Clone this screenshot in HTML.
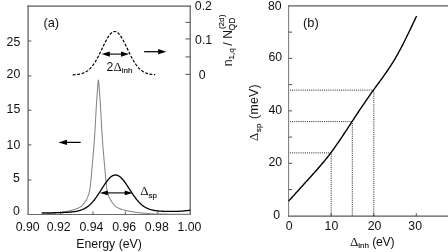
<!DOCTYPE html>
<html><head><meta charset="utf-8"><title>Figure</title>
<style>
html,body{margin:0;padding:0;background:#fff;}
body{width:448px;height:252px;overflow:hidden;}
svg{display:block;font-family:"Liberation Sans",sans-serif;font-size:12.3px;fill:#111;}
.fr{fill:none;stroke:#585858;stroke-width:1.1;}
.tk line{stroke:#585858;stroke-width:1.05;}
.sb{font-size:8.1px;stroke:#111;stroke-width:0.15px;}
.lb{font-size:12.8px;}
.dl{font-family:"Liberation Serif",serif;font-size:13px;}
</style></head><body>
<svg width="448" height="252" viewBox="0 0 448 252">
<rect width="448" height="252" fill="#fff"/>
<!-- panel a -->
<g class="fr"><path d="M28.1,5.55 V215.05" stroke-width="1.2"/><path d="M190.2,5.55 V215.05" stroke-width="1.2"/><path d="M27.50,6.15 H190.80" stroke-width="1.3"/><path d="M27.50,214.55 H190.80" stroke="#6c6c6c" stroke-width="1.1"/></g>
<g class="tk"><line x1="60.52" y1="214.55" x2="60.52" y2="211.55"/><line x1="92.94" y1="214.55" x2="92.94" y2="211.55"/><line x1="125.36" y1="214.55" x2="125.36" y2="211.55"/><line x1="157.78" y1="214.55" x2="157.78" y2="211.55"/><line x1="28.10" y1="41.00" x2="31.40" y2="41.00"/><line x1="28.10" y1="75.90" x2="31.40" y2="75.90"/><line x1="28.10" y1="110.20" x2="31.40" y2="110.20"/><line x1="28.10" y1="144.90" x2="31.40" y2="144.90"/><line x1="28.10" y1="180.00" x2="31.40" y2="180.00"/><line x1="190.20" y1="22.40" x2="185.40" y2="22.40"/><line x1="190.20" y1="38.90" x2="185.40" y2="38.90"/><line x1="190.20" y1="56.90" x2="185.40" y2="56.90"/><line x1="190.20" y1="74.40" x2="185.40" y2="74.40"/></g>
<text x="27.6" y="230.7" text-anchor="middle">0.90</text><text x="58.7" y="230.7" text-anchor="middle">0.92</text><text x="91.4" y="230.7" text-anchor="middle">0.94</text><text x="124.1" y="230.7" text-anchor="middle">0.96</text><text x="156.8" y="230.7" text-anchor="middle">0.98</text><text x="189.4" y="230.7" text-anchor="middle">1.00</text><text x="19.9" y="214.75" text-anchor="end">0</text><text x="19.9" y="181.55" text-anchor="end">5</text><text x="20.3" y="148.85" text-anchor="end">10</text><text x="20.3" y="112.95" text-anchor="end">15</text><text x="20.3" y="78.25" text-anchor="end">20</text><text x="20.3" y="45.85" text-anchor="end">25</text>
<text x="194.8" y="10.4">0.2</text>
<text x="195.1" y="43.6">0.1</text>
<text x="198.8" y="78.8">0</text>
<text class="lb" x="43.4" y="27.2">(a)</text>
<path d="M41.70,213.96 L42.00,213.95 L42.30,213.94 L42.59,213.92 L42.89,213.91 L43.19,213.89 L43.49,213.88 L43.78,213.86 L44.08,213.85 L44.38,213.83 L44.68,213.81 L44.97,213.79 L45.27,213.78 L45.57,213.76 L45.87,213.74 L46.16,213.72 L46.46,213.70 L46.76,213.68 L47.06,213.66 L47.35,213.63 L47.65,213.61 L47.95,213.59 L48.25,213.57 L48.54,213.54 L48.84,213.52 L49.14,213.50 L49.44,213.48 L49.74,213.45 L50.03,213.43 L50.33,213.40 L50.63,213.38 L50.93,213.36 L51.22,213.33 L51.52,213.31 L51.82,213.28 L52.12,213.26 L52.41,213.23 L52.71,213.21 L53.01,213.18 L53.31,213.16 L53.60,213.13 L53.90,213.11 L54.20,213.08 L54.50,213.05 L54.79,213.03 L55.09,213.00 L55.39,212.97 L55.69,212.94 L55.98,212.91 L56.28,212.88 L56.58,212.85 L56.88,212.81 L57.17,212.78 L57.47,212.75 L57.77,212.71 L58.07,212.68 L58.37,212.64 L58.66,212.61 L58.96,212.57 L59.26,212.53 L59.56,212.49 L59.85,212.46 L60.15,212.42 L60.45,212.38 L60.75,212.33 L61.04,212.29 L61.34,212.25 L61.64,212.21 L61.94,212.16 L62.23,212.12 L62.53,212.07 L62.83,212.03 L63.13,211.98 L63.42,211.93 L63.72,211.89 L64.02,211.84 L64.32,211.79 L64.61,211.74 L64.91,211.69 L65.21,211.64 L65.51,211.58 L65.81,211.53 L66.10,211.48 L66.40,211.42 L66.70,211.37 L67.00,211.31 L67.29,211.26 L67.59,211.20 L67.89,211.14 L68.19,211.09 L68.48,211.03 L68.78,210.97 L69.08,210.91 L69.38,210.84 L69.67,210.78 L69.97,210.72 L70.27,210.65 L70.57,210.59 L70.86,210.52 L71.16,210.45 L71.46,210.38 L71.76,210.30 L72.05,210.23 L72.35,210.15 L72.65,210.07 L72.95,209.99 L73.25,209.91 L73.54,209.82 L73.84,209.73 L74.14,209.64 L74.44,209.55 L74.73,209.46 L75.03,209.36 L75.33,209.26 L75.63,209.15 L75.92,209.05 L76.22,208.94 L76.52,208.82 L76.82,208.71 L77.11,208.59 L77.41,208.46 L77.71,208.34 L78.01,208.21 L78.30,208.07 L78.60,207.94 L78.90,207.80 L79.20,207.65 L79.49,207.50 L79.79,207.34 L80.09,207.16 L80.39,206.96 L80.68,206.74 L80.98,206.51 L81.28,206.26 L81.58,205.99 L81.88,205.71 L82.17,205.41 L82.47,205.10 L82.77,204.77 L83.07,204.43 L83.36,204.07 L83.66,203.70 L83.96,203.31 L84.26,202.91 L84.55,202.49 L84.85,202.07 L85.15,201.62 L85.45,201.17 L85.74,200.70 L86.04,200.22 L86.34,199.72 L86.64,199.19 L86.93,198.63 L87.23,198.02 L87.53,197.37 L87.83,196.65 L88.12,195.87 L88.42,195.01 L88.72,194.08 L89.02,193.05 L89.32,191.92 L89.61,190.68 L89.91,189.27 L90.21,187.08 L90.51,184.30 L90.80,181.30 L91.10,178.33 L91.40,175.10 L91.70,171.70 L91.99,168.23 L92.29,164.81 L92.59,161.47 L92.89,158.15 L93.18,154.79 L93.48,151.35 L93.78,147.77 L94.08,143.99 L94.37,139.90 L94.67,135.37 L94.97,130.58 L95.27,125.40 L95.56,119.98 L95.86,114.51 L96.16,109.16 L96.46,104.11 L96.76,99.54 L97.05,95.28 L97.35,91.21 L97.65,87.34 L97.95,83.69 L98.24,80.26 L98.54,80.08 L98.84,83.49 L99.14,87.14 L99.43,91.00 L99.73,95.06 L100.03,99.31 L100.33,103.85 L100.62,108.87 L100.92,114.21 L101.22,119.68 L101.52,125.11 L101.81,130.30 L102.11,135.12 L102.41,139.66 L102.71,143.77 L103.00,147.57 L103.30,151.16 L103.60,154.61 L103.90,157.97 L104.19,161.29 L104.49,164.63 L104.79,168.04 L105.09,171.51 L105.39,174.92 L105.68,178.16 L105.98,181.14 L106.28,184.14 L106.58,186.94 L106.87,189.17 L107.17,190.61 L107.47,191.85 L107.77,192.99 L108.06,194.02 L108.36,194.97 L108.66,195.83 L108.96,196.61 L109.25,197.33 L109.55,197.99 L109.85,198.60 L110.15,199.16 L110.44,199.69 L110.74,200.19 L111.04,200.67 L111.34,201.14 L111.63,201.60 L111.93,202.04 L112.23,202.47 L112.53,202.89 L112.83,203.29 L113.12,203.68 L113.42,204.05 L113.72,204.41 L114.02,204.75 L114.31,205.08 L114.61,205.40 L114.91,205.70 L115.21,205.98 L115.50,206.24 L115.80,206.49 L116.10,206.73 L116.40,206.95 L116.69,207.15 L116.99,207.33 L117.29,207.49 L117.59,207.64 L117.88,207.79 L118.18,207.93 L118.48,208.07 L118.78,208.20 L119.07,208.33 L119.37,208.46 L119.67,208.58 L119.97,208.70 L120.27,208.82 L120.56,208.93 L120.86,209.04 L121.16,209.15 L121.46,209.25 L121.75,209.35 L122.05,209.45 L122.35,209.55 L122.65,209.64 L122.94,209.73 L123.24,209.82 L123.54,209.90 L123.84,209.99 L124.13,210.07 L124.43,210.15 L124.73,210.22 L125.03,210.30 L125.32,210.37 L125.62,210.44 L125.92,210.51 L126.22,210.58 L126.51,210.65 L126.81,210.71 L127.11,210.78 L127.41,210.84 L127.71,210.90 L128.00,210.96 L128.30,211.02 L128.60,211.08 L128.90,211.14 L129.19,211.20 L129.49,211.25 L129.79,211.31 L130.09,211.37 L130.38,211.42 L130.68,211.48 L130.98,211.53 L131.28,211.58 L131.57,211.63 L131.87,211.69 L132.17,211.74 L132.47,211.79 L132.76,211.84 L133.06,211.88 L133.36,211.93 L133.66,211.98 L133.95,212.03 L134.25,212.07 L134.55,212.12 L134.85,212.16 L135.14,212.20 L135.44,212.25 L135.74,212.29 L136.04,212.33 L136.34,212.37 L136.63,212.41 L136.93,212.45 L137.23,212.49 L137.53,212.53 L137.82,212.57 L138.12,212.61 L138.42,212.64 L138.72,212.68 L139.01,212.71 L139.31,212.75 L139.61,212.78 L139.91,212.81 L140.20,212.85 L140.50,212.88 L140.80,212.91 L141.10,212.94 L141.39,212.97 L141.69,213.00 L141.99,213.02 L142.29,213.05 L142.58,213.08 L142.88,213.11 L143.18,213.13 L143.48,213.16 L143.78,213.18 L144.07,213.21 L144.37,213.23 L144.67,213.26 L144.97,213.28 L145.26,213.31 L145.56,213.33 L145.86,213.35 L146.16,213.38 L146.45,213.40 L146.75,213.43 L147.05,213.45 L147.35,213.47 L147.64,213.50 L147.94,213.52 L148.24,213.54 L148.54,213.57 L148.83,213.59 L149.13,213.61 L149.43,213.63 L149.73,213.65 L150.02,213.67 L150.32,213.70 L150.62,213.72 L150.92,213.74 L151.22,213.76 L151.51,213.77 L151.81,213.79 L152.11,213.81 L152.41,213.83 L152.70,213.85 L153.00,213.86 L153.30,213.88 L153.60,213.89 L153.89,213.91 L154.19,213.92 L154.49,213.94 L154.79,213.95 L155.08,213.96 L155.38,213.97 L155.68,213.98 L155.98,213.99 L156.27,214.00 L156.57,214.01 L156.87,214.02 L157.17,214.03 L157.46,214.03 L157.76,214.04 L158.06,214.05 L158.36,214.05 L158.65,214.05 L158.95,214.06 L159.25,214.06 L159.55,214.06 L159.85,214.07 L160.14,214.07 L160.44,214.07 L160.74,214.08 L161.04,214.08 L161.33,214.08 L161.63,214.09 L161.93,214.09 L162.23,214.09 L162.52,214.10 L162.82,214.10 L163.12,214.10 L163.42,214.10 L163.71,214.11 L164.01,214.11 L164.31,214.11 L164.61,214.12 L164.90,214.12 L165.20,214.12 L165.50,214.12 L165.80,214.13 L166.09,214.13 L166.39,214.13 L166.69,214.13 L166.99,214.14 L167.29,214.14 L167.58,214.14 L167.88,214.15 L168.18,214.15 L168.48,214.15 L168.77,214.15 L169.07,214.15 L169.37,214.16 L169.67,214.16 L169.96,214.16 L170.26,214.16 L170.56,214.17 L170.86,214.17 L171.15,214.17 L171.45,214.17 L171.75,214.17 L172.05,214.18 L172.34,214.18 L172.64,214.18 L172.94,214.18 L173.24,214.19 L173.53,214.19 L173.83,214.19 L174.13,214.19 L174.43,214.19 L174.73,214.19 L175.02,214.20 L175.32,214.20 L175.62,214.20 L175.92,214.20 L176.21,214.20 L176.51,214.20 L176.81,214.21 L177.11,214.21 L177.40,214.21 L177.70,214.21 L178.00,214.21 L178.30,214.21 L178.59,214.22 L178.89,214.22 L179.19,214.22 L179.49,214.22 L179.78,214.22 L180.08,214.22 L180.38,214.22 L180.68,214.22 L180.97,214.23 L181.27,214.23 L181.57,214.23 L181.87,214.23 L182.16,214.23 L182.46,214.23 L182.76,214.23 L183.06,214.23 L183.36,214.23 L183.65,214.24 L183.95,214.24 L184.25,214.24 L184.55,214.24 L184.84,214.24 L185.14,214.24 L185.44,214.24 L185.74,214.24 L186.03,214.24 L186.33,214.24 L186.63,214.24 L186.93,214.24 L187.22,214.24 L187.52,214.24 L187.82,214.25 L188.12,214.25 L188.41,214.25 L188.71,214.25 L189.01,214.25 L189.31,214.25 L189.60,214.25 L189.90,214.25 L190.20,214.25" fill="none" stroke="#858585" stroke-width="1.05" stroke-linejoin="round"/>
<path d="M41.70,212.99 L42.00,212.99 L42.30,212.98 L42.59,212.98 L42.89,212.97 L43.19,212.97 L43.49,212.96 L43.78,212.96 L44.08,212.95 L44.38,212.95 L44.68,212.94 L44.97,212.94 L45.27,212.93 L45.57,212.93 L45.87,212.92 L46.16,212.92 L46.46,212.91 L46.76,212.91 L47.06,212.90 L47.35,212.90 L47.65,212.89 L47.95,212.89 L48.25,212.88 L48.54,212.87 L48.84,212.87 L49.14,212.86 L49.44,212.86 L49.74,212.85 L50.03,212.85 L50.33,212.84 L50.63,212.83 L50.93,212.83 L51.22,212.82 L51.52,212.82 L51.82,212.81 L52.12,212.80 L52.41,212.80 L52.71,212.79 L53.01,212.78 L53.31,212.78 L53.60,212.77 L53.90,212.77 L54.20,212.76 L54.50,212.75 L54.79,212.75 L55.09,212.74 L55.39,212.73 L55.69,212.72 L55.98,212.72 L56.28,212.71 L56.58,212.70 L56.88,212.69 L57.17,212.69 L57.47,212.68 L57.77,212.67 L58.07,212.66 L58.37,212.66 L58.66,212.65 L58.96,212.64 L59.26,212.63 L59.56,212.62 L59.85,212.61 L60.15,212.60 L60.45,212.59 L60.75,212.58 L61.04,212.57 L61.34,212.56 L61.64,212.55 L61.94,212.54 L62.23,212.53 L62.53,212.52 L62.83,212.51 L63.13,212.50 L63.42,212.49 L63.72,212.48 L64.02,212.46 L64.32,212.45 L64.61,212.44 L64.91,212.42 L65.21,212.41 L65.51,212.40 L65.81,212.38 L66.10,212.37 L66.40,212.35 L66.70,212.34 L67.00,212.32 L67.29,212.30 L67.59,212.28 L67.89,212.27 L68.19,212.25 L68.48,212.23 L68.78,212.21 L69.08,212.18 L69.38,212.16 L69.67,212.14 L69.97,212.12 L70.27,212.09 L70.57,212.07 L70.86,212.04 L71.16,212.01 L71.46,211.98 L71.76,211.95 L72.05,211.92 L72.35,211.89 L72.65,211.86 L72.95,211.82 L73.25,211.79 L73.54,211.75 L73.84,211.71 L74.14,211.67 L74.44,211.63 L74.73,211.58 L75.03,211.54 L75.33,211.49 L75.63,211.44 L75.92,211.38 L76.22,211.33 L76.52,211.27 L76.82,211.22 L77.11,211.15 L77.41,211.09 L77.71,211.02 L78.01,210.95 L78.30,210.88 L78.60,210.81 L78.90,210.73 L79.20,210.65 L79.49,210.56 L79.79,210.48 L80.09,210.39 L80.39,210.29 L80.68,210.19 L80.98,210.09 L81.28,209.98 L81.58,209.87 L81.88,209.76 L82.17,209.64 L82.47,209.52 L82.77,209.39 L83.07,209.26 L83.36,209.12 L83.66,208.98 L83.96,208.83 L84.26,208.68 L84.55,208.52 L84.85,208.36 L85.15,208.19 L85.45,208.02 L85.74,207.84 L86.04,207.65 L86.34,207.46 L86.64,207.26 L86.93,207.06 L87.23,206.85 L87.53,206.63 L87.83,206.41 L88.12,206.18 L88.42,205.95 L88.72,205.70 L89.02,205.45 L89.32,205.20 L89.61,204.93 L89.91,204.66 L90.21,204.39 L90.51,204.10 L90.80,203.81 L91.10,203.51 L91.40,203.21 L91.70,202.89 L91.99,202.57 L92.29,202.25 L92.59,201.91 L92.89,201.57 L93.18,201.22 L93.48,200.87 L93.78,200.51 L94.08,200.14 L94.37,199.76 L94.67,199.38 L94.97,198.99 L95.27,198.60 L95.56,198.20 L95.86,197.79 L96.16,197.38 L96.46,196.96 L96.76,196.54 L97.05,196.11 L97.35,195.68 L97.65,195.24 L97.95,194.80 L98.24,194.36 L98.54,193.91 L98.84,193.45 L99.14,193.00 L99.43,192.54 L99.73,192.08 L100.03,191.61 L100.33,191.15 L100.62,190.68 L100.92,190.21 L101.22,189.74 L101.52,189.27 L101.81,188.80 L102.11,188.33 L102.41,187.86 L102.71,187.40 L103.00,186.93 L103.30,186.47 L103.60,186.01 L103.90,185.55 L104.19,185.10 L104.49,184.65 L104.79,184.21 L105.09,183.77 L105.39,183.34 L105.68,182.91 L105.98,182.49 L106.28,182.08 L106.58,181.67 L106.87,181.28 L107.17,180.89 L107.47,180.51 L107.77,180.14 L108.06,179.77 L108.36,179.42 L108.66,179.08 L108.96,178.75 L109.25,178.44 L109.55,178.13 L109.85,177.84 L110.15,177.56 L110.44,177.29 L110.74,177.04 L111.04,176.80 L111.34,176.57 L111.63,176.36 L111.93,176.16 L112.23,175.98 L112.53,175.81 L112.83,175.66 L113.12,175.52 L113.42,175.40 L113.72,175.29 L114.02,175.21 L114.31,175.13 L114.61,175.08 L114.91,175.04 L115.21,175.01 L115.50,175.00 L115.80,175.01 L116.10,175.04 L116.40,175.08 L116.69,175.14 L116.99,175.21 L117.29,175.30 L117.59,175.40 L117.88,175.53 L118.18,175.66 L118.48,175.82 L118.78,175.98 L119.07,176.17 L119.37,176.36 L119.67,176.58 L119.97,176.80 L120.27,177.04 L120.56,177.30 L120.86,177.56 L121.16,177.84 L121.46,178.13 L121.75,178.44 L122.05,178.75 L122.35,179.08 L122.65,179.42 L122.94,179.77 L123.24,180.13 L123.54,180.50 L123.84,180.88 L124.13,181.26 L124.43,181.66 L124.73,182.06 L125.03,182.47 L125.32,182.89 L125.62,183.31 L125.92,183.74 L126.22,184.17 L126.51,184.61 L126.81,185.06 L127.11,185.50 L127.41,185.96 L127.71,186.41 L128.00,186.87 L128.30,187.33 L128.60,187.79 L128.90,188.25 L129.19,188.71 L129.49,189.18 L129.79,189.64 L130.09,190.10 L130.38,190.56 L130.68,191.02 L130.98,191.48 L131.28,191.94 L131.57,192.40 L131.87,192.85 L132.17,193.30 L132.47,193.74 L132.76,194.18 L133.06,194.62 L133.36,195.05 L133.66,195.48 L133.95,195.91 L134.25,196.33 L134.55,196.74 L134.85,197.15 L135.14,197.55 L135.44,197.95 L135.74,198.34 L136.04,198.73 L136.34,199.11 L136.63,199.48 L136.93,199.85 L137.23,200.20 L137.53,200.56 L137.82,200.90 L138.12,201.24 L138.42,201.57 L138.72,201.90 L139.01,202.22 L139.31,202.53 L139.61,202.83 L139.91,203.13 L140.20,203.42 L140.50,203.70 L140.80,203.97 L141.10,204.24 L141.39,204.50 L141.69,204.76 L141.99,205.00 L142.29,205.24 L142.58,205.48 L142.88,205.70 L143.18,205.92 L143.48,206.14 L143.78,206.35 L144.07,206.55 L144.37,206.74 L144.67,206.93 L144.97,207.11 L145.26,207.29 L145.56,207.46 L145.86,207.63 L146.16,207.79 L146.45,207.94 L146.75,208.09 L147.05,208.23 L147.35,208.37 L147.64,208.50 L147.94,208.63 L148.24,208.76 L148.54,208.88 L148.83,208.99 L149.13,209.10 L149.43,209.21 L149.73,209.31 L150.02,209.41 L150.32,209.50 L150.62,209.59 L150.92,209.68 L151.22,209.76 L151.51,209.84 L151.81,209.92 L152.11,209.99 L152.41,210.06 L152.70,210.13 L153.00,210.20 L153.30,210.26 L153.60,210.32 L153.89,210.37 L154.19,210.43 L154.49,210.48 L154.79,210.53 L155.08,210.57 L155.38,210.62 L155.68,210.66 L155.98,210.70 L156.27,210.74 L156.57,210.78 L156.87,210.82 L157.17,210.85 L157.46,210.88 L157.76,210.91 L158.06,210.94 L158.36,210.97 L158.65,211.00 L158.95,211.02 L159.25,211.05 L159.55,211.07 L159.85,211.09 L160.14,211.11 L160.44,211.13 L160.74,211.15 L161.04,211.17 L161.33,211.19 L161.63,211.20 L161.93,211.22 L162.23,211.23 L162.52,211.25 L162.82,211.26 L163.12,211.27 L163.42,211.28 L163.71,211.30 L164.01,211.31 L164.31,211.32 L164.61,211.33 L164.90,211.33 L165.20,211.34 L165.50,211.35 L165.80,211.36 L166.09,211.37 L166.39,211.37 L166.69,211.38 L166.99,211.39 L167.29,211.39 L167.58,211.40 L167.88,211.40 L168.18,211.41 L168.48,211.41 L168.77,211.42 L169.07,211.42 L169.37,211.43 L169.67,211.43 L169.96,211.43 L170.26,211.44 L170.56,211.44 L170.86,211.44 L171.15,211.45 L171.45,211.45 L171.75,211.45 L172.05,211.45 L172.34,211.45 L172.64,211.45 L172.94,211.45 L173.24,211.44 L173.53,211.44 L173.83,211.44 L174.13,211.43 L174.43,211.43 L174.73,211.42 L175.02,211.41 L175.32,211.41 L175.62,211.40 L175.92,211.39 L176.21,211.38 L176.51,211.37 L176.81,211.36 L177.11,211.35 L177.40,211.34 L177.70,211.32 L178.00,211.31 L178.30,211.30 L178.59,211.28 L178.89,211.27 L179.19,211.25 L179.49,211.23 L179.78,211.22 L180.08,211.20 L180.38,211.18 L180.68,211.16 L180.97,211.14 L181.27,211.12 L181.57,211.10 L181.87,211.08 L182.16,211.06 L182.46,211.03 L182.76,211.01 L183.06,210.98 L183.36,210.96 L183.65,210.93 L183.95,210.91 L184.25,210.88 L184.55,210.85 L184.84,210.83 L185.14,210.80 L185.44,210.77 L185.74,210.74 L186.03,210.71 L186.33,210.68 L186.63,210.64 L186.93,210.61 L187.22,210.58 L187.52,210.54 L187.82,210.51 L188.12,210.48 L188.41,210.44 L188.71,210.40 L189.01,210.37 L189.31,210.33 L189.60,210.29 L189.90,210.25 L190.20,210.21" fill="none" stroke="#000" stroke-width="1.3" stroke-linejoin="round"/>
<path d="M72.70,74.83 L73.11,74.81 L73.53,74.79 L73.94,74.77 L74.36,74.74 L74.77,74.71 L75.19,74.68 L75.60,74.65 L76.02,74.61 L76.43,74.57 L76.85,74.52 L77.26,74.47 L77.67,74.42 L78.09,74.36 L78.50,74.30 L78.92,74.23 L79.33,74.15 L79.75,74.07 L80.16,73.98 L80.58,73.89 L80.99,73.79 L81.41,73.67 L81.82,73.56 L82.24,73.43 L82.65,73.29 L83.06,73.14 L83.48,72.98 L83.89,72.81 L84.31,72.63 L84.72,72.43 L85.14,72.23 L85.55,72.00 L85.97,71.77 L86.38,71.52 L86.80,71.25 L87.21,70.97 L87.62,70.68 L88.04,70.36 L88.45,70.03 L88.87,69.68 L89.28,69.31 L89.70,68.93 L90.11,68.52 L90.53,68.09 L90.94,67.65 L91.36,67.18 L91.77,66.69 L92.18,66.19 L92.60,65.66 L93.01,65.11 L93.43,64.54 L93.84,63.95 L94.26,63.33 L94.67,62.70 L95.09,62.05 L95.50,61.37 L95.92,60.68 L96.33,59.97 L96.75,59.24 L97.16,58.49 L97.57,57.73 L97.99,56.95 L98.40,56.15 L98.82,55.34 L99.23,54.52 L99.65,53.69 L100.06,52.85 L100.48,52.00 L100.89,51.14 L101.31,50.28 L101.72,49.41 L102.13,48.54 L102.55,47.68 L102.96,46.81 L103.38,45.95 L103.79,45.09 L104.21,44.25 L104.62,43.41 L105.04,42.58 L105.45,41.77 L105.87,40.98 L106.28,40.20 L106.69,39.45 L107.11,38.72 L107.52,38.01 L107.94,37.33 L108.35,36.68 L108.77,36.06 L109.18,35.48 L109.60,34.93 L110.01,34.41 L110.43,33.93 L110.84,33.49 L111.26,33.10 L111.67,32.74 L112.08,32.43 L112.50,32.16 L112.91,31.94 L113.33,31.76 L113.74,31.63 L114.16,31.54 L114.57,31.50 L114.99,31.51 L115.40,31.57 L115.82,31.67 L116.23,31.82 L116.64,32.02 L117.06,32.26 L117.47,32.54 L117.89,32.87 L118.30,33.24 L118.72,33.66 L119.13,34.11 L119.55,34.60 L119.96,35.13 L120.38,35.70 L120.79,36.30 L121.21,36.93 L121.62,37.59 L122.03,38.28 L122.45,38.99 L122.86,39.74 L123.28,40.50 L123.69,41.28 L124.11,42.08 L124.52,42.90 L124.94,43.73 L125.35,44.57 L125.77,45.42 L126.18,46.28 L126.59,47.14 L127.01,48.01 L127.42,48.87 L127.84,49.74 L128.25,50.61 L128.67,51.47 L129.08,52.32 L129.50,53.17 L129.91,54.01 L130.33,54.84 L130.74,55.65 L131.15,56.46 L131.57,57.25 L131.98,58.02 L132.40,58.78 L132.81,59.52 L133.23,60.24 L133.64,60.95 L134.06,61.63 L134.47,62.30 L134.89,62.95 L135.30,63.57 L135.72,64.17 L136.13,64.76 L136.54,65.32 L136.96,65.86 L137.37,66.38 L137.79,66.88 L138.20,67.36 L138.62,67.82 L139.03,68.26 L139.45,68.68 L139.86,69.08 L140.28,69.46 L140.69,69.82 L141.10,70.16 L141.52,70.48 L141.93,70.79 L142.35,71.08 L142.76,71.36 L143.18,71.62 L143.59,71.86 L144.01,72.09 L144.42,72.31 L144.84,72.51 L145.25,72.70 L145.66,72.88 L146.08,73.04 L146.49,73.20 L146.91,73.34 L147.32,73.48 L147.74,73.60 L148.15,73.72 L148.57,73.83 L148.98,73.93 L149.40,74.02 L149.81,74.10 L150.23,74.18 L150.64,74.26 L151.05,74.32 L151.47,74.38 L151.88,74.44 L152.30,74.49 L152.71,74.54 L153.13,74.58 L153.54,74.62 L153.96,74.66 L154.37,74.69 L154.79,74.72 L155.20,74.75" fill="none" stroke="#000" stroke-width="1.2" stroke-dasharray="2.9,1.6"/>
<!-- arrows -->
<g fill="#000">
<line x1="108.80" y1="54.1" x2="122.00" y2="54.1" stroke="#000" stroke-width="1.1"/><path d="M101.7,54.1 l8.1,-2.6 v5.2z"/><path d="M129.1,54.1 l-8.1,-2.6 v5.2z"/>
<line x1="144.10" y1="51.7" x2="159.10" y2="51.7" stroke="#000" stroke-width="1.25"/><path d="M166.3,51.7 l-8.2,-2.6 v5.2z"/>
<line x1="66.00" y1="142.4" x2="80.70" y2="142.4" stroke="#000" stroke-width="1.25"/><path d="M58.4,142.4 l8.6,-2.6 v5.2z"/>
<line x1="106.80" y1="192.9" x2="125.70" y2="192.9" stroke="#000" stroke-width="1.1"/><path d="M99.8,192.9 l8.0,-2.4 v4.8z"/><path d="M132.7,192.9 l-8.0,-2.4 v4.8z"/>
</g>
<text x="106.6" y="70.9">2<tspan class="dl">Δ</tspan><tspan class="sb" dy="2">inh</tspan></text>
<text x="140.2" y="195.4"><tspan class="dl">Δ</tspan><tspan class="sb" dy="2.3">sp</tspan></text>
<text x="109.1" y="248.2" text-anchor="middle">Energy (eV)</text>
<text transform="translate(232.3,66.3) rotate(-90)">n<tspan class="sb" dy="2.1">1,q</tspan><tspan dy="-2.1" dx="-0.9"> / N</tspan><tspan font-size="8.6" stroke="#111" stroke-width="0.15" dy="2.8" dx="-0.6">QD</tspan></text>
<text transform="translate(224.4,29.1) rotate(-90)" font-size="7.4" letter-spacing="0.45" stroke="#111" stroke-width="0.15">(2d)</text>
<!-- panel b -->
<g class="fr"><path d="M288.6,5.40 V216.80" stroke="#707070" stroke-width="0.95"/><path d="M288.10,5.9 H449" stroke-width="1.1"/><path d="M288.10,216.2 H449" stroke-width="1.25"/></g>
<g class="tk"><line x1="331.10" y1="216.20" x2="331.10" y2="213.20"/><line x1="373.75" y1="216.20" x2="373.75" y2="213.20"/><line x1="416.30" y1="216.20" x2="416.30" y2="213.20"/><line x1="288.60" y1="189.56" x2="292.10" y2="189.56"/><line x1="288.60" y1="163.32" x2="292.10" y2="163.32"/><line x1="288.60" y1="137.08" x2="292.10" y2="137.08"/><line x1="288.60" y1="110.84" x2="292.10" y2="110.84"/><line x1="288.60" y1="84.60" x2="292.10" y2="84.60"/><line x1="288.60" y1="58.36" x2="292.10" y2="58.36"/><line x1="288.60" y1="32.12" x2="292.10" y2="32.12"/></g>
<text x="289.1" y="230.1" text-anchor="middle">0</text><text x="331.4" y="230.1" text-anchor="middle">10</text><text x="374.5" y="230.1" text-anchor="middle">20</text><text x="415.2" y="230.1" text-anchor="middle">30</text><text x="280.2" y="218.75" text-anchor="end">0</text><text x="282.1" y="166.05" text-anchor="end">20</text><text x="282.1" y="114.25" text-anchor="end">40</text><text x="282.1" y="61.45" text-anchor="end">60</text><text x="281.6" y="9.55" text-anchor="end">80</text>
<text class="lb" x="303.1" y="27.2">(b)</text>
<g fill="none" stroke="#222" stroke-width="1" stroke-dasharray="1,1.13"><path d="M289.90,152.9 H331.2 V216.2"/><path d="M289.90,121.6 H352.3 V216.2"/><path d="M289.90,90.1 H373.8 V216.2"/></g>
<path d="M288.60,201.10 L289.46,200.15 L290.32,199.21 L291.18,198.26 L292.04,197.31 L292.90,196.36 L293.75,195.42 L294.61,194.47 L295.47,193.52 L296.33,192.58 L297.19,191.63 L298.05,190.68 L298.91,189.73 L299.77,188.78 L300.63,187.84 L301.49,186.89 L302.34,185.94 L303.20,184.99 L304.06,184.04 L304.92,183.09 L305.78,182.14 L306.64,181.19 L307.50,180.24 L308.36,179.29 L309.22,178.34 L310.08,177.39 L310.94,176.44 L311.79,175.49 L312.65,174.54 L313.51,173.58 L314.37,172.62 L315.23,171.66 L316.09,170.69 L316.95,169.72 L317.81,168.74 L318.67,167.76 L319.53,166.77 L320.39,165.77 L321.24,164.77 L322.10,163.75 L322.96,162.73 L323.82,161.70 L324.68,160.65 L325.54,159.60 L326.40,158.53 L327.26,157.46 L328.12,156.36 L328.98,155.26 L329.83,154.14 L330.69,153.01 L331.55,151.86 L332.41,150.69 L333.27,149.52 L334.13,148.32 L334.99,147.12 L335.85,145.90 L336.71,144.67 L337.57,143.43 L338.43,142.18 L339.28,140.92 L340.14,139.66 L341.00,138.38 L341.86,137.10 L342.72,135.81 L343.58,134.51 L344.44,133.21 L345.30,131.91 L346.16,130.60 L347.02,129.29 L347.88,127.97 L348.73,126.66 L349.59,125.34 L350.45,124.02 L351.31,122.71 L352.17,121.39 L353.03,120.08 L353.89,118.77 L354.75,117.46 L355.61,116.16 L356.47,114.85 L357.32,113.56 L358.18,112.26 L359.04,110.97 L359.90,109.68 L360.76,108.40 L361.62,107.12 L362.48,105.84 L363.34,104.57 L364.20,103.31 L365.06,102.05 L365.92,100.79 L366.77,99.54 L367.63,98.30 L368.49,97.07 L369.35,95.84 L370.21,94.61 L371.07,93.40 L371.93,92.19 L372.79,90.99 L373.65,89.80 L374.51,88.61 L375.37,87.43 L376.22,86.26 L377.08,85.08 L377.94,83.91 L378.80,82.74 L379.66,81.57 L380.52,80.40 L381.38,79.22 L382.24,78.04 L383.10,76.85 L383.96,75.65 L384.81,74.44 L385.67,73.22 L386.53,71.98 L387.39,70.73 L388.25,69.47 L389.11,68.19 L389.97,66.88 L390.83,65.56 L391.69,64.22 L392.55,62.85 L393.41,61.46 L394.26,60.04 L395.12,58.59 L395.98,57.11 L396.84,55.61 L397.70,54.08 L398.56,52.52 L399.42,50.94 L400.28,49.34 L401.14,47.71 L402.00,46.07 L402.86,44.40 L403.71,42.72 L404.57,41.01 L405.43,39.29 L406.29,37.56 L407.15,35.81 L408.01,34.05 L408.87,32.28 L409.73,30.50 L410.59,28.71 L411.45,26.91 L412.30,25.10 L413.16,23.29 L414.02,21.47 L414.88,19.65 L415.74,17.82 L416.60,16.00" fill="none" stroke="#000" stroke-width="1.4"/>
<text transform="translate(258.2,141.0) rotate(-90)"><tspan class="dl">Δ</tspan><tspan class="sb" dy="2.3" dx="0.5">sp</tspan><tspan dy="-2.3" dx="0.9" letter-spacing="0.27"> (meV)</tspan></text>
<text x="349.9" y="246.4"><tspan class="dl">Δ</tspan><tspan class="sb" dy="1.9">inh</tspan><tspan dy="-1.9" letter-spacing="-0.3"> (eV)</tspan></text>
</svg>
</body></html>
